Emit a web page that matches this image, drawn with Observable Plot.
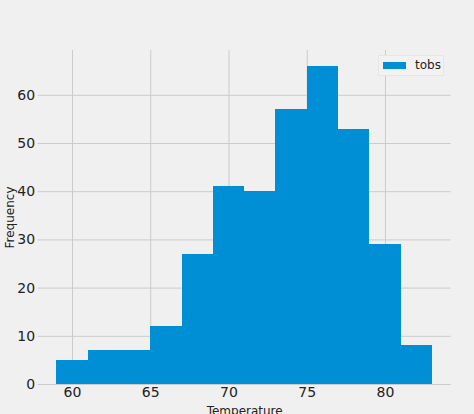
<!DOCTYPE html>
<html>
<head>
<meta charset="utf-8">
<script src="https://cdn.jsdelivr.net/npm/d3@7"></script>
<script src="https://cdn.jsdelivr.net/npm/@observablehq/plot@0.6"></script>
<style>
  html, body { margin: 0; padding: 0; background: #f0f0f0; }
  #wrap { position: relative; width: 474px; height: 414px; overflow: hidden; }
  #legend {
    position: absolute; left: 378px; top: 55px; width: 66px; height: 21px;
    box-sizing: border-box; border: 1px solid #e6e6e6; background: #f2f2f2;
    font-family: "DejaVu Sans", sans-serif; font-size: 12px; color: #222;
  }
  #legend .sw { position: absolute; left: 4px; top: 6px; width: 23px; height: 7px; background: #008fd5; }
  #legend .lb { position: absolute; left: 36px; top: 2px; }
</style>
</head>
<body>
<div id="wrap">
  <div id="chart"></div>
  <div id="legend"><div class="sw"></div><div class="lb">tobs</div></div>
</div>
<script>
const binStarts = [59, 61, 63, 65, 67, 69, 71, 73, 75, 77, 79, 81];
const binEnds   = [61, 63, 65, 67, 69, 71, 73, 75, 77, 79, 81, 83];
const counts    = [5, 7, 7, 12, 27, 41, 40, 57, 66, 53, 29, 8];
const xTicks = [60, 65, 70, 75, 80];
const yTicks = [0, 10, 20, 30, 40, 50, 60];

const bins = binStarts.map((s, i) => ({x1: s, x2: binEnds[i], y: counts[i]}));

const chart = Plot.plot({
  width: 474,
  height: 414,
  marginLeft: 37.6,
  marginRight: 23.3,
  marginTop: 50,
  marginBottom: 30,
  style: {background: "#f0f0f0", fontFamily: "DejaVu Sans, sans-serif", fontSize: "14px", color: "#222"},
  x: {domain: [57.8, 84.2]},
  y: {domain: [0, 69.3]},
  marks: [
    Plot.gridX(xTicks, {stroke: "#cbcbcb", strokeOpacity: 1, strokeWidth: 1}),
    Plot.gridY(yTicks, {stroke: "#cbcbcb", strokeOpacity: 1, strokeWidth: 1}),
    Plot.rectY(bins, {x1: "x1", x2: "x2", y: "y", fill: "#008fd5", inset: 0, shapeRendering: "crispEdges"}),
    Plot.axisX(xTicks, {tickSize: 0, tickPadding: 3, fontSize: 14, label: null}),
    Plot.axisX({tickSize: 0, ticks: [], fontSize: 12, label: "Temperature", labelAnchor: "center", labelArrow: "none", labelOffset: 30}),
    Plot.axisY(yTicks, {tickSize: 0, tickPadding: 3, fontSize: 14, label: null}),
    Plot.axisY({tickSize: 0, ticks: [], fontSize: 12, label: "Frequency", labelAnchor: "center", labelArrow: "none", labelOffset: 33})
  ]
});
document.getElementById("chart").appendChild(chart);
</script>
</body>
</html>
